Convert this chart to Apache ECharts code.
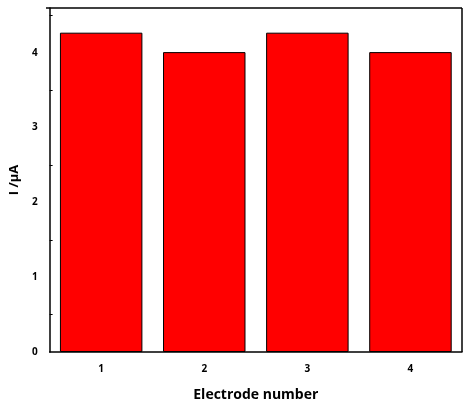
<!DOCTYPE html>
<html><head><meta charset="utf-8">
<script src="https://cdn.jsdelivr.net/npm/echarts@6/dist/echarts.min.js"></script>
<style>html,body{margin:0;padding:0;background:#fff}#main{width:474px;height:408px}</style>
</head><body><div id="main"></div>
<script>
var categories = ["1", "2", "3", "4"];
var currents = [4.27, 4.01, 4.27, 4.01];
var yTicks = [0, 1, 2, 3, 4];

var chart = echarts.init(document.getElementById('main'));
var axisFont = {fontFamily: "Open Sans", fontWeight: "bold", color: "#000"};
chart.setOption({
    animation: false,
    grid: {left: 46, right: 12, top: 8, bottom: 56},
    xAxis: {
        type: 'category',
        data: categories,
        name: 'Electrode number',
        nameLocation: 'middle',
        nameGap: 36,
        nameTextStyle: {fontFamily: "Open Sans", fontWeight: "bold", fontSize: 14, color: "#000"},
        axisLine: {lineStyle: {color: '#000', width: 1.5}},
        axisTick: {inside: true, length: 4, lineStyle: {color: '#000'}},
        axisLabel: Object.assign({fontSize: 10, margin: 12}, axisFont)
    },
    yAxis: {
        type: 'value',
        min: 0, max: 4.6, interval: 1,
        name: 'I /μA',
        nameLocation: 'middle',
        nameGap: 28,
        nameTextStyle: {fontFamily: "Open Sans", fontWeight: "bold", fontSize: 13, color: "#000"},
        axisLine: {show: true, lineStyle: {color: '#000', width: 1.5}},
        axisTick: {inside: true, length: 5, lineStyle: {color: '#000'}},
        minorTick: {show: true, splitNumber: 2, length: 3, lineStyle: {color: '#000'}},
        splitLine: {show: false},
        axisLabel: Object.assign({fontSize: 10, margin: 12, showMaxLabel: false,
            formatter: function (v) { return yTicks.indexOf(v) >= 0 ? String(v) : ''; }}, axisFont)
    },
    series: [{
        type: 'bar',
        data: currents,
        barWidth: '80%',
        itemStyle: {color: '#ff0000', borderColor: '#000', borderWidth: 1}
    }],
    graphic: [
        {type: 'line', shape: {x1: 46, y1: 8, x2: 462, y2: 8}, style: {stroke: '#000', lineWidth: 1.5}},
        {type: 'line', shape: {x1: 462, y1: 8, x2: 462, y2: 352}, style: {stroke: '#000', lineWidth: 1.5}}
    ]
});
</script></body></html>
